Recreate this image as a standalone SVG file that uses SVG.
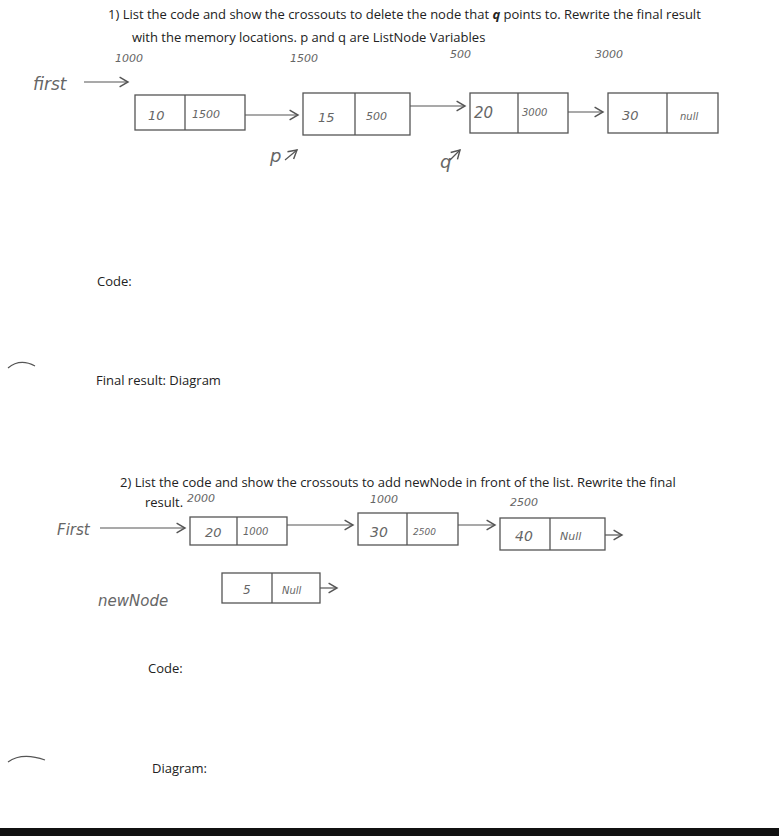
<svg xmlns="http://www.w3.org/2000/svg" width="779" height="836" viewBox="0 0 779 836">
<style>
.t{font-family:"Open Sans","Liberation Sans",sans-serif;font-size:13px;fill:#222}
.h{font-family:"DejaVu Sans",sans-serif;fill:#666;font-style:italic}
.b{fill:none;stroke:#555;stroke-width:1.3}
.c{fill:none;stroke:#555;stroke-width:1.2}
</style>
<defs><marker id="a" markerWidth="10" markerHeight="10" refX="8" refY="5" orient="auto"><path d="M1,1 L8,5 L1,9" fill="none" stroke="#555" stroke-width="1.2"/></marker></defs>
<rect width="779" height="836" fill="#fff"/>
<text class="t" x="108" y="19">1)  List the code and show the crossouts to delete the node that <tspan font-weight="bold" font-style="italic">q</tspan> points to. Rewrite the final result</text>
<text class="t" x="132" y="42">with the memory locations. p and q are ListNode Variables</text>
<text class="t" x="97" y="286">Code:</text>
<text class="t" x="96" y="385">Final result: Diagram</text>
<text class="t" x="120" y="487">2)  List the code and show the crossouts to add newNode in front of the list. Rewrite the final</text>
<text class="t" x="145" y="507">result.</text>
<text class="t" x="148" y="673">Code:</text>
<text class="t" x="152" y="773">Diagram:</text>
<path class="c" d="M8,368 Q20,358 35,366 M8,762 Q22,752 45,760"/>
<rect x="0" y="828" width="779" height="8" fill="#111"/>
<g id="first1"><text class="h" x="33" y="90" font-size="17">first</text></g>
<g id="n1000"><text class="h" x="115" y="62" font-size="11">1000</text><rect class="b" x="135" y="95" width="110" height="35"/><path class="b" d="M185,95V130"/><text class="h" x="148" y="120" font-size="13">10</text><text class="h" x="192" y="118" font-size="11">1500</text></g>
<g id="n1500"><text class="h" x="290" y="62" font-size="11">1500</text><rect class="b" x="303" y="93" width="107" height="42"/><path class="b" d="M355,93V135"/><text class="h" x="318" y="122" font-size="13">15</text><text class="h" x="366" y="120" font-size="11">500</text></g>
<g id="n500"><text class="h" x="450" y="58" font-size="11">500</text><rect class="b" x="470" y="93" width="98" height="40"/><path class="b" d="M518,93V133"/><text class="h" x="474" y="118" font-size="15">20</text><text class="h" x="522" y="116" font-size="10">3000</text></g>
<g id="n3000"><text class="h" x="595" y="58" font-size="11">3000</text><rect class="b" x="608" y="93" width="110" height="40"/><path class="b" d="M667,93V133"/><text class="h" x="622" y="120" font-size="13">30</text><text class="h" x="680" y="120" font-size="10">null</text></g>
<g id="pq"><text class="h" x="270" y="162" font-size="18">p</text><text class="h" x="440" y="168" font-size="18">q</text></g>
<g id="first2"><text class="h" x="57" y="535" font-size="15">First</text></g>
<g id="n2000"><text class="h" x="187" y="502" font-size="11">2000</text><rect class="b" x="190" y="517" width="97" height="28"/><path class="b" d="M237,517V545"/><text class="h" x="205" y="537" font-size="13">20</text><text class="h" x="243" y="535" font-size="10">1000</text></g>
<g id="n1000b"><text class="h" x="370" y="503" font-size="11">1000</text><rect class="b" x="358" y="513" width="100" height="32"/><path class="b" d="M407,513V545"/><text class="h" x="370" y="537" font-size="14">30</text><text class="h" x="413" y="535" font-size="9">2500</text></g>
<g id="n2500"><text class="h" x="510" y="506" font-size="11">2500</text><rect class="b" x="500" y="518" width="105" height="32"/><path class="b" d="M550,518V550"/><text class="h" x="515" y="541" font-size="14">40</text><text class="h" x="560" y="540" font-size="11">Null</text></g>
<g id="newNode"><text class="h" x="98" y="606" font-size="15">newNode</text><rect class="b" x="222" y="573" width="98" height="30"/><path class="b" d="M272,573V603"/><text class="h" x="243" y="594" font-size="12">5</text><text class="h" x="282" y="594" font-size="10">Null</text></g>
<g id="connectors">
<path class="c" d="M84,82H128" marker-end="url(#a)"/>
<path class="c" d="M245,115H298" marker-end="url(#a)"/>
<path class="c" d="M410,106H465" marker-end="url(#a)"/>
<path class="c" d="M568,112H603" marker-end="url(#a)"/>
<path class="c" d="M285,160L297,150" marker-end="url(#a)"/>
<path class="c" d="M450,160L460,150" marker-end="url(#a)"/>
<path class="c" d="M100,528H185" marker-end="url(#a)"/>
<path class="c" d="M287,525H353" marker-end="url(#a)"/>
<path class="c" d="M458,525H495" marker-end="url(#a)"/>
<path class="c" d="M605,535H622" marker-end="url(#a)"/>
<path class="c" d="M320,588H337" marker-end="url(#a)"/>
</g>
</svg>
